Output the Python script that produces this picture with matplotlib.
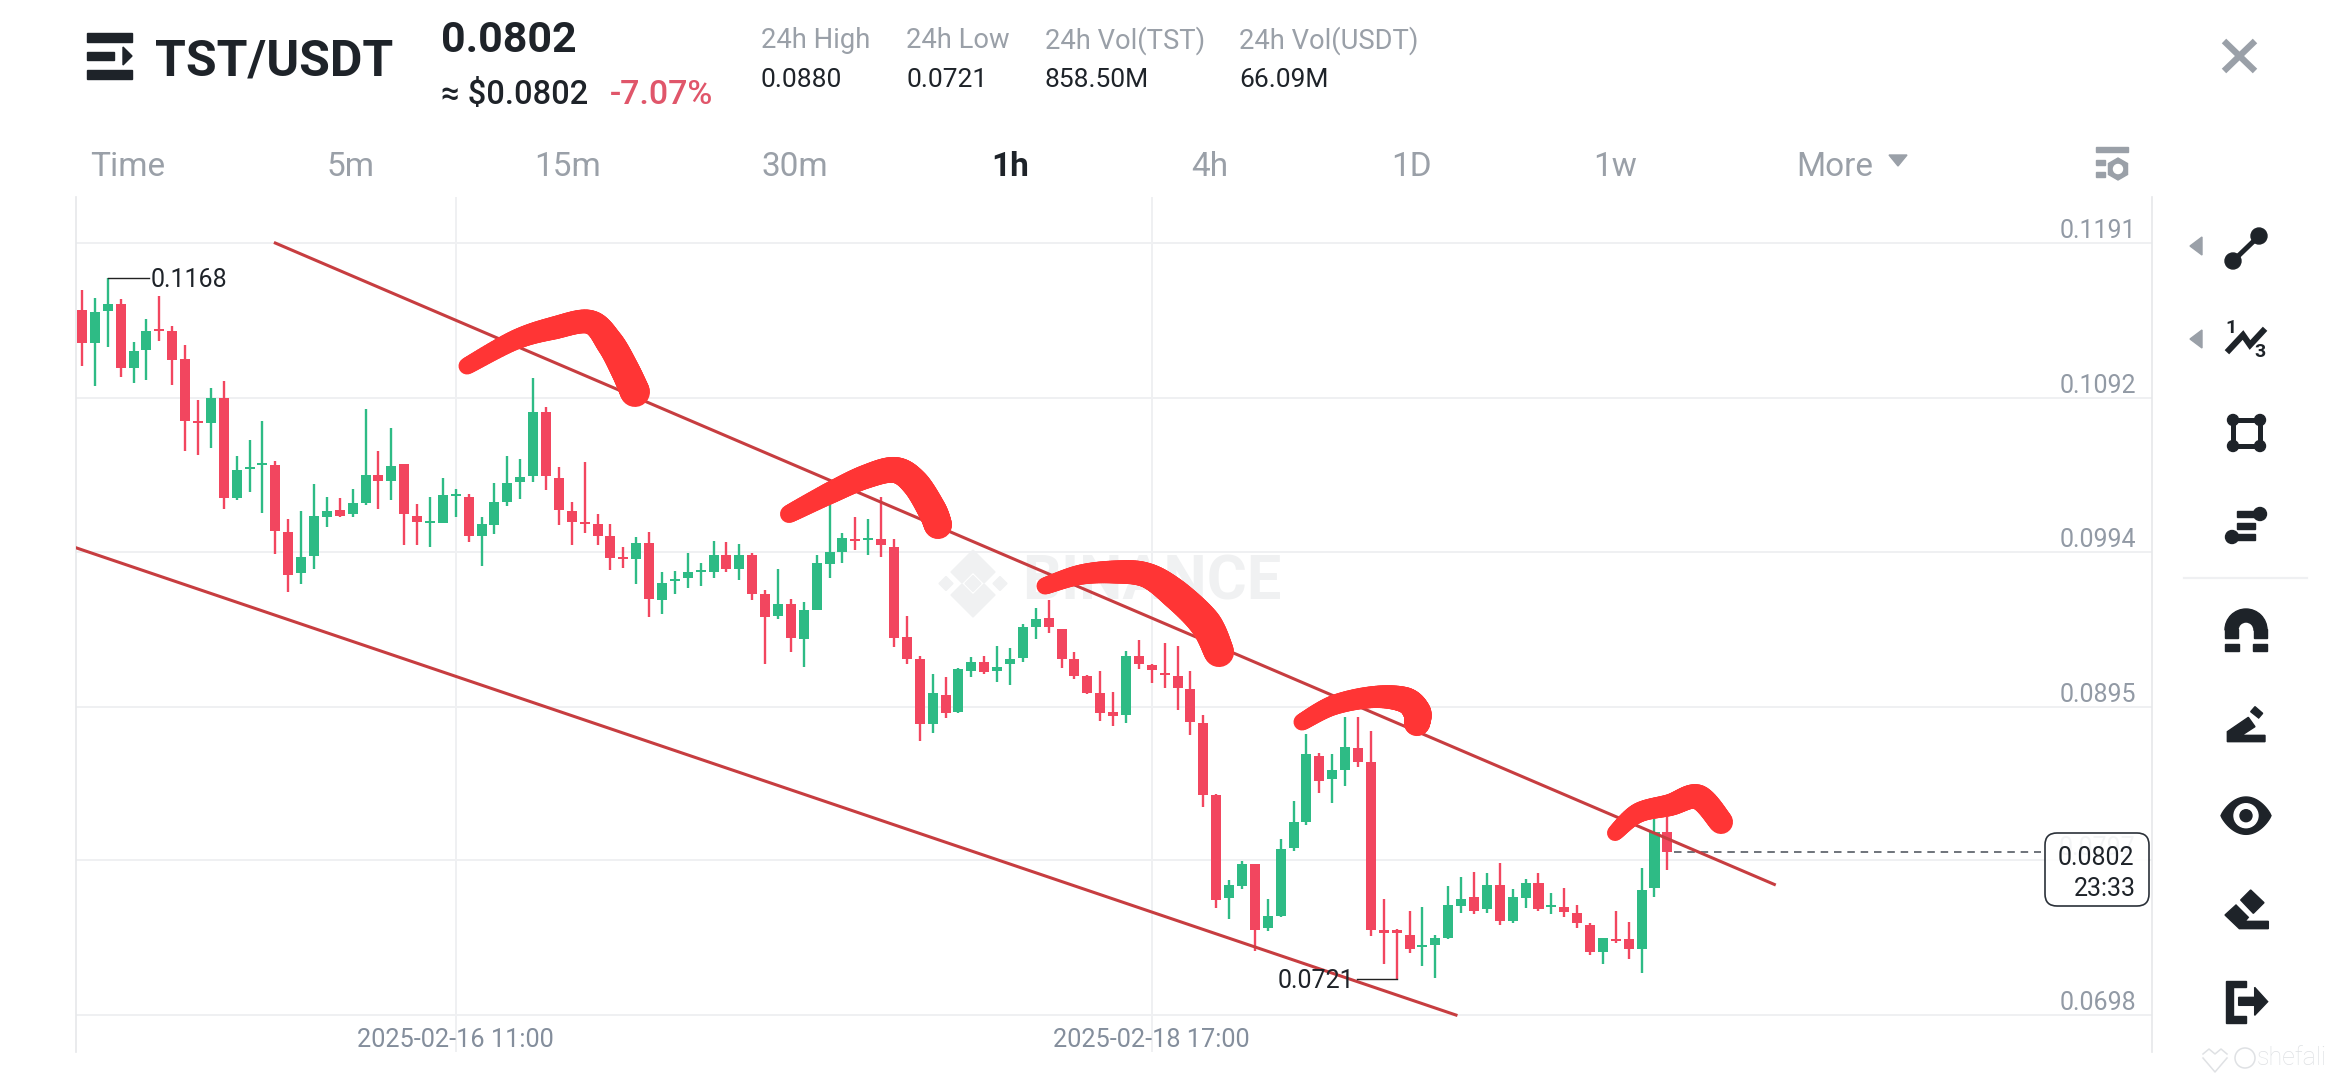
import matplotlib
matplotlib.use('Agg')
import matplotlib.pyplot as plt
import numpy as np
from matplotlib.collections import LineCollection
from matplotlib.patches import Circle, FancyBboxPatch, Polygon, Rectangle, Wedge

plt.rcParams['font.family'] = ['Roboto', 'DejaVu Sans']

opens = [.11482, .11274, .11474, .11520, .11114, .11225, .11363, .11350, .11169, .10771,
         .10763, .10920, .10279, .10465, .10494, .10490, .10066, .09800, .09913, .10162,
         .10207, .10179, .10247, .10428, .10392, .10499, .10169, .10124, .10122, .10294,
         .10290, .10041, .10111, .10258, .10381, .10422, .10831, .10409, .10198, .10128,
         .10117, .10037, .09905, .09890, .09996, .09630, .09754, .09773, .09811, .09809,
         .09918, .09828, .09918, .09669, .09526, .09607, .09379, .09569, .09860, .09939,
         .10020, .10016, .10018, .09969, .09396, .09256, .08838, .09024, .08917, .09177,
         .09234, .09179, .09219, .09258, .09460, .09515, .09445, .09256, .09147, .09034,
         .08913, .08898, .09275, .09215, .09162, .09143, .09064, .08845, .08385, .07725,
         .07804, .07942, .07533, .07612, .08044, .08215, .08634, .08487, .08545, .08683,
         .08594, .07521, .07521, .07491, .07416, .07425, .07474, .07676, .07731, .07655,
         .07810, .07582, .07725, .07821, .07668, .07672, .07629, .07553, .07384, .07467,
         .07467, .07404, .07793, .08151]
highs = [.11610, .11561, .11684, .11550, .11280, .11423, .11572, .11380, .11261, .10907,
         .10982, .11031, .10550, .10652, .10771, .10520, .10147, .10201, .10369, .10290,
         .10279, .10339, .10850, .10582, .10731, .10499, .10241, .10290, .10407, .10339,
         .10307, .10158, .10379, .10550, .10531, .11050, .10861, .10479, .10258, .10509,
         .10179, .10117, .09966, .10034, .10066, .09807, .09818, .09928, .09865, .10007,
         .09999, .09986, .09928, .09694, .09828, .09637, .09615, .09918, .10269, .10056,
         .10158, .10148, .10290, .10018, .09526, .09275, .09156, .09136, .09194, .09264,
         .09275, .09337, .09326, .09475, .09577, .09630, .09447, .09296, .09153, .09175,
         .09045, .09307, .09375, .09222, .09358, .09337, .09177, .08896, .08394, .07842,
         .07963, .07944, .07723, .08102, .08345, .08775, .08655, .08645, .08885, .08885,
         .08794, .07723, .07531, .07642, .07672, .07491, .07804, .07863, .07891, .07885,
         .07953, .07783, .07851, .07885, .07761, .07793, .07680, .07570, .07470, .07642,
         .07572, .07921, .08232, .08247]
lows = [.11124, .10997, .11244, .11056, .11014, .11035, .11286, .11003, .10584, .10554,
        .10603, .10209, .10269, .10322, .10183, .09922, .09683, .09730, .09830, .10094,
        .10158, .10162, .10237, .10211, .10269, .09981, .09981, .09971, .10120, .10162,
        .10000, .09849, .10052, .10232, .10273, .10381, .10333, .10111, .09981, .10060,
        .09981, .09822, .09832, .09730, .09519, .09538, .09669, .09709, .09722, .09773,
        .09811, .09758, .09630, .09219, .09509, .09300, .09200, .09566, .09773, .09869,
        .09950, .09920, .09903, .09328, .09219, .08728, .08779, .08879, .08911, .09141,
        .09158, .09109, .09087, .09232, .09379, .09417, .09198, .09128, .09028, .08857,
        .08828, .08847, .09188, .09098, .09070, .08928, .08768, .08310, .07665, .07595,
        .07785, .07389, .07514, .07604, .08025, .08196, .08396, .08336, .08445, .08566,
        .07484, .07303, .07210, .07374, .07293, .07214, .07465, .07633, .07625, .07633,
        .07553, .07565, .07665, .07644, .07625, .07604, .07533, .07363, .07303, .07442,
        .07335, .07246, .07736, .07906]
closes = [.11274, .11472, .11520, .11114, .11220, .11350, .11346, .11165, .10773, .10758,
          .10920, .10284, .10460, .10479, .10507, .10071, .09790, .09907, .10166, .10198,
          .10169, .10247, .10428, .10392, .10488, .10181, .10130, .10135, .10298, .10305,
          .10041, .10115, .10258, .10379, .10418, .10831, .10422, .10203, .10130, .10115,
          .10041, .09900, .09894, .09996, .09634, .09736, .09767, .09807, .09824, .09918,
          .09828, .09918, .09669, .09520, .09607, .09390, .09566, .09869, .09937, .10028,
          .10007, .10026, .09982, .09390, .09256, .08840, .09036, .08906, .09188, .09234,
          .09168, .09205, .09256, .09460, .09507, .09460, .09251, .09147, .09038, .08911,
          .08889, .09275, .09219, .09181, .09151, .09070, .08849, .08387, .07714, .07810,
          .07944, .07523, .07610, .08042, .08213, .08645, .08477, .08543, .08694, .08596,
          .07523, .07506, .07506, .07401, .07429, .07470, .07680, .07721, .07642, .07810,
          .07582, .07734, .07821, .07655, .07680, .07636, .07565, .07384, .07470, .07455,
          .07404, .07778, .08151, .08020]

price_ticks = [.1191, .1092, .0994, .0895, .0797, .0698]
price_labels = ['0.1191', '0.1092', '0.0994', '0.0895', '0.0797', '0.0698']
time_ticks = [29, 83]
time_labels = ['2025-02-16 11:00', '2025-02-18 17:00']
upper_channel_x = [15.0, 131.3]
upper_channel_y = [.1191, .07814]
lower_channel_x = [-0.465, 106.6]
lower_channel_y = [.09964, .0698]
last_price = .0802

tabs = ['Time', '5m', '15m', '30m', '1h', '4h', '1D', '1w', 'More']
tab_centers = [128, 351, 568, 795, 1010, 1210, 1412, 1615, 1835]
stat_names = ['24h High', '24h Low', '24h Vol(TST)', '24h Vol(USDT)']
stat_values = ['0.0880', '0.0721', '858.50M', '66.09M']
stat_lefts = [761, 906, 1045, 1239]

GREEN = '#2ebb85'
RED = '#f2465f'
INK = '#1e2329'
GRAY = '#9aa0a8'
GRID = '#eff0f2'
FAINT = '#f0f1f2'

# hand drawn marks, pixel points + thickness
strokes = [
    ([(467, 366), (515, 340), (554, 328), (590, 322), (610, 343), (625, 370), (635, 392)],
     [17, 20, 23, 24, 28, 29, 30]),
    ([(789, 514), (830, 493), (865, 477), (895, 470), (915, 483), (932, 510), (938, 525)],
     [18, 22, 24, 26, 28, 29, 28]),
    ([(1045, 586), (1079, 575), (1114, 572), (1146, 575), (1174, 593), (1205, 623), (1219, 652)],
     [17, 20, 23, 25, 30, 32, 30]),
    ([(1302, 722), (1334, 705), (1374, 697), (1405, 700), (1417, 712), (1417, 723)],
     [17, 20, 22, 26, 28, 26]),
    ([(1615, 833), (1638, 813), (1670, 805), (1698, 797), (1721, 822)],
     [16, 20, 22, 25, 24]),
]


def smooth(pts, widths, n=16):
    # catmull-rom through the points
    p = np.array([pts[0]] + list(pts) + [pts[-1]], dtype=float)
    xy, w = [], []
    for i in range(1, len(p) - 2):
        for t in np.linspace(0, 1, n, endpoint=False):
            xy.append(0.5 * (2 * p[i] + (p[i + 1] - p[i - 1]) * t
                             + (2 * p[i - 1] - 5 * p[i] + 4 * p[i + 1] - p[i + 2]) * t ** 2
                             + (3 * p[i] - p[i - 1] - 3 * p[i + 1] + p[i + 2]) * t ** 3))
            w.append(widths[i - 1] + (widths[i] - widths[i - 1]) * t)
    xy.append(p[-1])
    w.append(widths[-1])
    return np.array(xy), np.array(w)


def draw_chart(ax):
    x = np.arange(len(opens))
    o, h, l, c = map(np.array, (opens, highs, lows, closes))
    colors = [GREEN if cl >= op else RED for op, cl in zip(o, c)]
    ax.vlines(x, l, h, colors=colors, linewidth=1.7, zorder=3)
    ax.bar(x, np.abs(c - o), bottom=np.minimum(o, c), width=0.78, color=colors, zorder=3)

    ax.plot(upper_channel_x, upper_channel_y, color='#c73d40', lw=2.2, zorder=4)
    ax.plot(lower_channel_x, lower_channel_y, color='#c73d40', lw=2.2, zorder=4)
    ax.plot([len(opens) - 0.5, 152], [last_price, last_price], color='#555b63',
            lw=1.2, ls=(0, (4.5, 3.5)), zorder=2)

    ax.set_xlim(-0.465, 160.6)
    ax.set_ylim(0.06744, 0.12204)
    ax.set_yticks(price_ticks)
    ax.set_xticks(time_ticks)
    ax.set_xticklabels([])
    ax.set_yticklabels([])
    ax.tick_params(length=0)
    ax.grid(True, color=GRID, lw=1.4)
    ax.set_axisbelow(True)
    for side in ['top', 'bottom']:
        ax.spines[side].set_visible(False)
    for side in ['left', 'right']:
        ax.spines[side].set_color('#e6e8ea')
        ax.spines[side].set_linewidth(1.2)
    ax.patch.set_alpha(0)

    for tick, label in zip(price_ticks, price_labels):
        ax.annotate(label, (0.9922, tick), xycoords=ax.get_yaxis_transform(), xytext=(0, 3.6),
                    textcoords='offset points', ha='right', va='baseline', fontsize=18,
                    color='#929aa5')
    for tick, label in zip(time_ticks, time_labels):
        ax.text(tick, 0.0135, label, transform=ax.get_xaxis_transform(), ha='center', va='center',
                fontsize=18.2, color='#848e9c')

    # high and low callouts
    ax.plot([2, 5.2], [highs[2], highs[2]], color='#222', lw=1, zorder=5)
    ax.text(5.35, highs[2] - .00012, '0.1168', fontsize=18, color=INK, va='center', ha='left', zorder=5)
    ax.plot([98.9, 102], [lows[102], lows[102]], color='#222', lw=1, zorder=5)
    ax.text(98.7, lows[102] - .00012, '0.0721', fontsize=18, color=INK, va='center', ha='right', zorder=5)


def draw_watermark(ax):
    # diamond logo
    ax.add_patch(Polygon([(973, 550), (995, 572), (984, 583), (973, 572), (962, 583), (951, 572)], color=FAINT))
    ax.add_patch(Polygon([(973, 617), (995, 595), (984, 584), (973, 595), (962, 584), (951, 595)], color=FAINT))
    for cx, r in [(973, 8), (946, 7), (1000, 7)]:
        ax.add_patch(Polygon([(cx - r, 583.5), (cx, 583.5 - r), (cx + r, 583.5), (cx, 583.5 + r)], color=FAINT))
    ax.text(1022, 583, 'BINANCE', fontsize=44, fontweight='bold', color=FAINT, va='center', ha='left')


def draw_header(ui):
    ui.add_patch(Rectangle((87, 33), 45, 9, color=INK))
    ui.add_patch(Rectangle((87, 52), 27, 8, color=INK))
    ui.add_patch(Polygon([(123, 47), (132, 56), (123, 65)], color=INK))
    ui.add_patch(Rectangle((87, 70), 45, 9, color=INK))
    ui.text(155, 62, 'TST/USDT', fontsize=36, fontweight='bold', color=INK, va='center')
    ui.text(441, 41, '0.0802', fontsize=31, fontweight='bold', color=INK, va='center')
    ui.text(441, 95, '≈ $0.0802', fontsize=23.5, fontweight='medium', color=INK, va='center')
    ui.text(610, 95, '-7.07%', fontsize=24.5, fontweight='medium', color='#e0566a', va='center')
    for name, value, left in zip(stat_names, stat_values, stat_lefts):
        ui.text(left, 41, name, fontsize=19.7, color=GRAY, va='center')
        ui.text(left, 80, value, fontsize=19, color=INK, va='center')
    for tab, cx in zip(tabs, tab_centers):
        active = tab == '1h'
        ui.text(cx, 167, tab, fontsize=24, ha='center', va='center',
                color=INK if active else GRAY, fontweight='bold' if active else 'normal')
    ui.add_patch(Polygon([(1889, 155), (1907, 155), (1898, 166)], color=GRAY))
    # close + settings
    ui.plot([2224, 2255], [41, 71], color=GRAY, lw=4.6, solid_capstyle='butt')
    ui.plot([2224, 2255], [71, 41], color=GRAY, lw=4.6, solid_capstyle='butt')
    ui.add_patch(Rectangle((2096, 147), 32, 5, color=GRAY))
    ui.add_patch(Rectangle((2096, 160), 9, 5, color=GRAY))
    ui.add_patch(Rectangle((2096, 172), 9, 5, color=GRAY))
    ang = np.deg2rad(np.arange(30, 390, 60))
    ui.add_patch(Polygon(np.c_[2118 + 11 * np.cos(ang), 169 + 11 * np.sin(ang)], color=GRAY))
    ui.add_patch(Circle((2118, 169), 4.5, color='white'))


def draw_toolbar(ui):
    for y in [246, 339]:
        ui.add_patch(Polygon([(2202, y - 9), (2202, y + 9), (2190, y)], color=GRAY))
    # line tool
    ui.plot([2233, 2259], [261, 236], color=INK, lw=3.6)
    for c in [(2233, 261), (2259, 236)]:
        ui.add_patch(Circle(c, 8, color=INK))
    # fib tool
    ui.plot([2229, 2243, 2250, 2263], [350, 335, 345, 331], color=INK, lw=4.4, solid_joinstyle='miter')
    ui.text(2231, 328, '1', fontsize=14, fontweight='bold', color=INK, ha='center', va='center')
    ui.text(2260, 352, '3', fontsize=14, fontweight='bold', color=INK, ha='center', va='center')
    # shape tool
    ui.add_patch(Rectangle((2233, 420), 27, 26, fill=False, ec=INK, lw=3.6))
    for c in [(2233, 420), (2260, 420), (2233, 446), (2260, 446)]:
        ui.add_patch(Circle(c, 5.5, color=INK))
    # text tool
    ui.add_patch(Rectangle((2237, 511), 23, 6, color=INK))
    ui.add_patch(Circle((2260, 514), 6.5, color=INK))
    ui.add_patch(Rectangle((2237, 523), 18, 6, color=INK))
    ui.add_patch(Rectangle((2232, 534), 23, 6, color=INK))
    ui.add_patch(Circle((2232, 537), 6.5, color=INK))
    ui.plot([2184, 2307], [578, 578], color=GRID, lw=1.6)

    def z(pts):
        return [(2000 + a / 3, 560 + b / 3) for a, b in pts]

    # magnet
    ui.add_patch(Wedge((2246, 630), 21, 180, 360, width=13, color=INK))
    ui.add_patch(Rectangle((2225, 629), 13, 9, color=INK))
    ui.add_patch(Rectangle((2254, 629), 13, 9, color=INK))
    ui.add_patch(Rectangle((2225, 644), 14, 7, color=INK))
    ui.add_patch(Rectangle((2253, 644), 14, 7, color=INK))
    # pen
    ui.add_patch(Polygon(z([(682, 545), (682, 515), (745, 472), (765, 500), (725, 526), (795, 526), (795, 545)]),
                         color=INK))
    ui.add_patch(Polygon(z([(752, 455), (765, 440), (788, 460), (776, 474)]), color=INK))
    # eye
    t = np.linspace(-1, 1, 41)
    top = [(738 + 75 * u, 767 - 56 * (1 - u * u) ** 0.85) for u in t]
    bot = [(738 - 75 * u, 767 + 56 * (1 - u * u) ** 0.85) for u in t]
    ui.add_patch(Polygon(z(top + bot), color=INK))
    ui.add_patch(Circle((2246, 815.7), 12, color='white'))
    ui.add_patch(Circle((2246, 815.7), 6, color=INK))
    # eraser
    ui.add_patch(Polygon(z([(722, 1020), (752, 990), (792, 1028), (760, 1060)]), color=INK))
    ui.add_patch(Polygon(z([(675, 1065), (708, 1035), (745, 1072), (735, 1084), (805, 1084), (805, 1106), (718, 1106)]),
                         color=INK))
    # export
    ui.add_patch(Polygon(z([(678, 1262), (738, 1262), (738, 1282), (700, 1282), (700, 1368), (738, 1368), (738, 1388), (678, 1388)]),
                         color=INK))
    ui.add_patch(Polygon(z([(716, 1312), (764, 1312), (764, 1282), (803, 1325), (764, 1366), (764, 1336), (716, 1336)]),
                         color=INK))


def draw_overlays(ui):
    for pts, widths in strokes:
        xy, w = smooth(pts, widths)
        segs = np.stack([xy[:-1], xy[1:]], axis=1)
        ui.add_collection(LineCollection(segs, linewidths=w[:-1] * 0.72, colors='#ff3535',
                                         capstyle='round', zorder=6))
    ui.add_patch(FancyBboxPatch((2051, 839), 92, 61, boxstyle='round,pad=6,rounding_size=12',
                                fc=(1, 1, 1, 0.9), ec='#2b3139', lw=1.2, zorder=7))
    ui.text(2134, 858, '0.0802', fontsize=18, color=INK, ha='right', va='center', zorder=8)
    ui.text(2136, 889, '23:33', fontsize=18, color=INK, ha='right', va='center', zorder=8)
    # reposted-by mark in the corner
    mark = '#dfe1e4'
    ui.plot([2203, 2215, 2227], [1058, 1072, 1058], color=mark, lw=1.1)
    ui.plot([2203, 2209, 2215, 2221, 2227], [1054, 1049, 1054, 1049, 1054], color=mark, lw=1.1)
    ui.add_patch(Circle((2245, 1058), 10, fill=False, ec=mark, lw=1.1))
    ui.text(2257, 1058, 'shefali', fontsize=18, fontweight='light', color=mark, va='center', ha='left')


def main():
    fig = plt.figure(figsize=(23.4, 10.8), dpi=100, facecolor='white')
    px = lambda ax: (ax.set_xlim(0, 2340), ax.set_ylim(1080, 0), ax.set_axis_off())

    back = fig.add_axes([0, 0, 1, 1], zorder=0)
    px(back)
    draw_watermark(back)

    # chart box is 76..2152 x 197..1052 px
    chart = fig.add_axes([76 / 2340, 1 - 1052 / 1080, 2076 / 2340, 855 / 1080], zorder=1)
    draw_chart(chart)

    ui = fig.add_axes([0, 0, 1, 1], zorder=2)
    px(ui)
    ui.patch.set_alpha(0)
    draw_header(ui)
    draw_toolbar(ui)
    draw_overlays(ui)

    fig.savefig('out.png', dpi=100)


if __name__ == '__main__':
    main()
